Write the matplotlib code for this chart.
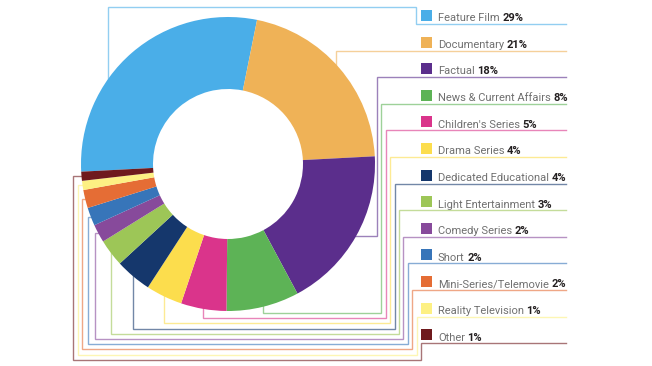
import matplotlib.pyplot as plt
import numpy as np
from matplotlib.colors import to_rgba
from matplotlib.patches import Rectangle

# genre share of titles, in percent
genres = ['Feature Film', 'Documentary', 'Factual', 'News & Current Affairs',
          "Children's Series", 'Drama Series', 'Dedicated Educational',
          'Light Entertainment', 'Comedy Series', 'Short',
          'Mini-Series/Telemovie', 'Reality Television', 'Other']
shares = [29, 21, 18, 8, 5, 4, 4, 3, 2, 2, 2, 1, 1]
colors = ['#4aaee8', '#efb257', '#5b2e8c', '#5db356', '#da348b', '#fcdd4d',
          '#15376c', '#9dc657', '#874a9b', '#3775b9', '#e56d35', '#fdf083',
          '#6f1a1d']

# layout, in pixels (figure is 652x366 at 100 dpi)
W, H = 652, 366
cx, cy = 228, 164
r_out, r_in = 147, 75
start = -93        # where Feature Film begins, degrees clockwise from 12 o'clock
x_end = 566        # right end of the legend rules
row0, row_step = 24, 26.6

plt.rcParams['font.family'] = ['Roboto', 'DejaVu Sans']

fig = plt.figure(figsize=(W / 100, H / 100), dpi=100)
ax = fig.add_axes([0, 0, 1, 1])

# y axis points down, so counterclock=True runs clockwise on screen
ax.pie(shares, colors=colors, center=(cx, cy), radius=r_out,
       startangle=start - 90, counterclock=True,
       wedgeprops=dict(width=r_out - r_in, linewidth=0, zorder=3))
ax.set_xlim(0, W)
ax.set_ylim(H, 0)
ax.set_aspect('auto')
ax.axis('off')

# anchor of each connector: outer edge at the middle of its wedge
edges = start + 360 * np.cumsum([0] + shares) / sum(shares)
mids = (edges[:-1] + edges[1:]) / 2
mids[0] = -55      # Feature Film line drops in left of centre
mids[1] = 47
anc_x = cx + r_out * np.sin(np.radians(mids))
anc_y = cy - r_out * np.cos(np.radians(mids))

renderer = fig.canvas.get_renderer()

xl_prev = 1e9
for i, (g, s, c) in enumerate(zip(genres, shares, colors)):
    ly = row0 + row_step * i
    axx, axy = anc_x[i], anc_y[i]
    if i == 0:
        pts = [(x_end, ly), (416, ly), (416, 7), (axx, 7), (axx, axy + 15)]
    elif i == 1:
        pts = [(x_end, ly), (axx, ly), (axx, axy + 15)]
    elif i == 2:
        pts = [(x_end, ly), (377, ly), (377, axy), (axx - 15, axy)]
    else:
        xr = 377 + 4.4 * (i - 2)
        yb = 313 + 5.2 * (i - 3)
        if i <= 7:
            pts = [(x_end, ly), (xr, ly), (xr, yb), (axx, yb), (axx, axy - 15)]
        else:
            xl = min(axx - 3, xl_prev - 4.5)
            xl_prev = xl
            pts = [(x_end, ly), (xr, ly), (xr, yb), (xl, yb), (xl, axy),
                   (axx + 15, axy)]
    px, py = zip(*pts)
    ax.plot(px, py, color=to_rgba(c, 0.6), lw=1.0, zorder=1,
            solid_joinstyle='miter')

    # legend entry: grey label, then bold percentage right after it
    ax.add_patch(Rectangle((421, ly - 14), 11, 11, color=c, lw=0, zorder=4))
    lab = ax.text(438, ly - 2.7, g, fontsize=8, color='#707070',
                  ha='left', va='baseline', zorder=4)
    x1 = lab.get_window_extent(renderer).x1 + 2.5
    ax.text(x1, ly - 2.7, f'{s}%', fontsize=8, fontweight='bold',
            color='#231f20', ha='left', va='baseline', zorder=4)

fig.savefig('out.png', dpi=100, facecolor='white')
